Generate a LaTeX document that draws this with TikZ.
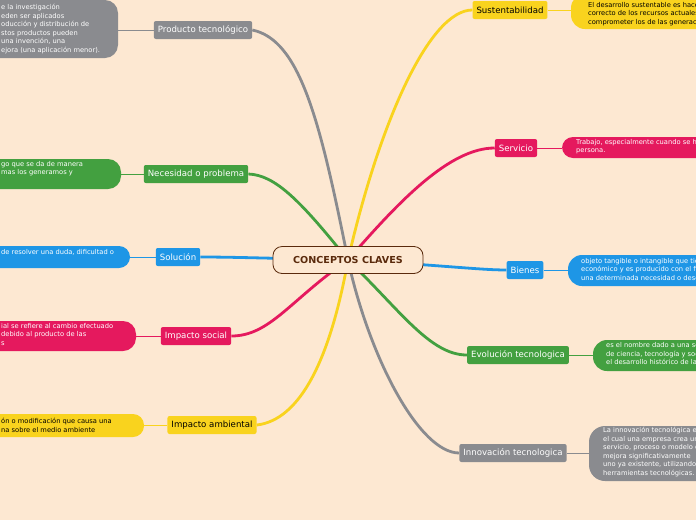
\documentclass[tikz,border=0pt]{standalone}
\usepackage{fontspec}
\setmainfont{DejaVu Sans}
\usetikzlibrary{backgrounds}
\pgfdeclarelayer{bottom}
\pgfsetlayers{bottom,background,main}
\definecolor{bg}{HTML}{FDE8D2}
\definecolor{cgray}{HTML}{8A8B8F}
\definecolor{cgreen}{HTML}{43A040}
\definecolor{cblue}{HTML}{1E96E6}
\definecolor{cpink}{HTML}{E5195E}
\definecolor{cyel}{HTML}{F9D31E}
\definecolor{cbrown}{HTML}{5A2A0C}
\tikzset{
 br/.style={rounded corners=2pt,minimum height=18pt,inner sep=4pt,font=\fontsize{8.6}{10}\selectfont,text=white},
 dtext/.style={inner sep=0pt,align=left,font=\fontsize{6.7}{8.6}\selectfont,text=white,anchor=north west},
 link/.style={line width=1pt},
 trunk/.style={line width=2.8pt},
}
\begin{document}
\begin{tikzpicture}[x=1pt,y=-1pt]
\begin{pgfonlayer}{bottom}
\fill[bg] (0,0) rectangle (696,520);
\end{pgfonlayer}
\useasboundingbox (0,0) rectangle (696,520);
\clip (0,0) rectangle (696,520);
% center
\node[draw=cbrown,fill=bg,line width=0.8pt,rounded corners=9pt,minimum width=150pt,minimum height=27pt,font=\bfseries\fontsize{9.6}{11}\selectfont,text=cbrown] (c) at (348,260) {CONCEPTOS CLAVES};
% branches
\node[br,fill=cgray] (p) at (203,30) {Producto tecnológico};
\node[br,fill=cgreen] (n) at (196,174) {Necesidad o problema};
\node[br,fill=cblue] (s) at (178,257) {Solución};
\node[br,fill=cpink] (is) at (196,336) {Impacto social};
\node[br,fill=cyel,text=black] (ia) at (212,425) {Impacto ambiental};
\node[br,fill=cyel,text=black] (su) at (510,10) {Sustentabilidad};
\node[br,fill=cpink] (se) at (516,148) {Servicio};
\node[br,fill=cblue] (bi) at (525,270) {Bienes};
\node[br,fill=cgreen] (ev) at (518,355) {Evolución tecnologica};
\node[br,fill=cgray] (in) at (513,453) {Innovación tecnologica};
% description bubbles
\fill[cgray,rounded corners=13pt] (-30,0) rectangle (118,58);
\fill[cgreen,rounded corners=13pt] (-30,159) rectangle (121,189);
\fill[cblue,rounded corners=11pt] (-30,246) rectangle (130,268);
\fill[cpink,rounded corners=13pt] (-30,321) rectangle (136,351);
\fill[cyel,rounded corners=11pt] (-30,414) rectangle (144,437);
\fill[cyel,rounded corners=14pt] (571,-6) rectangle (730,29);
\fill[cpink,rounded corners=11pt] (562,137) rectangle (730,158);
\fill[cblue,rounded corners=14pt] (568,255) rectangle (730,286);
\fill[cgreen,rounded corners=14pt] (593,340) rectangle (730,371);
\fill[cgray,rounded corners=16pt] (589,426) rectangle (730,481);
\coordinate (dp1) at (118,30); \coordinate (dn1) at (121,174);
\coordinate (ds1) at (130,257); \coordinate (dis1) at (136,336);
\coordinate (dia1) at (144,425); \coordinate (dsu1) at (571,10);
\coordinate (dse1) at (562,148); \coordinate (dbi1) at (568,270);
\coordinate (dev1) at (593,355); \coordinate (din1) at (589,453);
\node[dtext] at (1,4) {e la investigación\\eden ser aplicados\\oducción y distribución de\\stos productos pueden\\una invención, una\\ejora (una aplicación menor).};
\node[dtext] at (1,161) {go que se da de manera\\mas los generamos y};
\node[dtext] at (1,249) {de resolver una duda, dificultad o};
\node[dtext] at (1,323) {ial se refiere al cambio efectuado\\ debido al producto de las\\s};
\node[dtext,text=black] at (1,418) {ón o modificación que causa una\\na sobre el medio ambiente};
\node[dtext,text=black] at (588,-6.5) {que se puede mantener.\\El desarrollo sustentable es hacer un uso\\correcto de los recursos actuales sin\\comprometer los de las generaciones futuras.};
\node[dtext] at (576,139) {Trabajo, especialmente cuando se hace para otra\\persona.};
\node[dtext] at (581,258) {objeto tangible o intangible que tiene valor\\económico y es producido con el fin de satisfacer\\una determinada necesidad o deseo.};
\node[dtext] at (606,342) {es el nombre dado a una serie de teorías\\de ciencia, tecnología y sociedad que describen\\el desarrollo histórico de la tecnología.};
\node[dtext] at (603,427) {La innovación tecnológica es el proceso por\\el cual una empresa crea un nuevo producto,\\servicio, proceso o modelo de negocio, o\\mejora significativamente\\uno ya existente, utilizando\\herramientas tecnológicas.};
% connectors
\begin{scope}[on background layer]
\draw[trunk,cgray] (c.center) .. controls (320,120) and (300,40) .. (p.east);
\draw[trunk,cgreen] (c.center) .. controls (300,200) and (275,175) .. (n.east);
\draw[trunk,cblue] (c.center) .. controls (260,258) and (230,257) .. (s.east);
\draw[trunk,cpink] (c.center) .. controls (290,300) and (270,336) .. (is.east);
\draw[trunk,cyel] (c.center) .. controls (330,360) and (300,420) .. (ia.east);
\draw[trunk,cyel] (c.center) .. controls (380,120) and (430,10) .. (su.west);
\draw[trunk,cpink] (c.center) .. controls (400,200) and (450,148) .. (se.west);
\draw[trunk,cblue] (c.center) .. controls (440,265) and (480,270) .. (bi.west);
\draw[trunk,cgreen] (c.center) .. controls (400,310) and (430,355) .. (ev.west);
\draw[trunk,cgray] (c.center) .. controls (370,360) and (420,453) .. (in.west);
\draw[link,cgray] (p.west) -- (dp1);
\draw[link,cgreen] (n.west) -- (dn1);
\draw[link,cblue] (s.west) -- (ds1);
\draw[link,cpink] (is.west) -- (dis1);
\draw[link,cyel] (ia.west) -- (dia1);
\draw[link,cyel] (su.east) -- (dsu1);
\draw[link,cpink] (se.east) -- (dse1);
\draw[link,cblue] (bi.east) -- (dbi1);
\draw[link,cgreen] (ev.east) -- (dev1);
\draw[link,cgray] (in.east) -- (din1);
\end{scope}
\end{tikzpicture}
\end{document}
